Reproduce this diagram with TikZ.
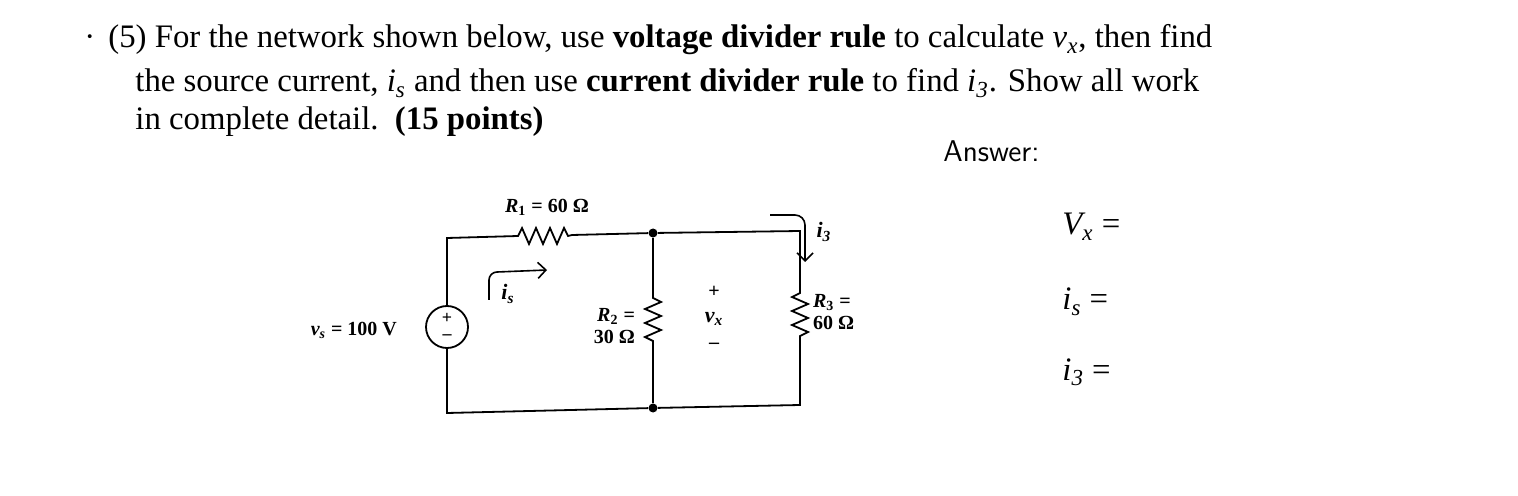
\documentclass[tikz,border=0pt]{standalone}
\usepackage{fontspec}
\setmainfont{Liberation Serif}
\usetikzlibrary{arrows.meta}
\begin{document}
\begin{tikzpicture}[x=0.5pt,y=-0.5pt,
  wire/.style={line width=0.9pt},
  lbl/.style={font=\fontsize{10}{11}\selectfont\bfseries},
  txt/.style={font=\fontsize{16.4}{18}\selectfont,anchor=base west,inner sep=0},
  dotn/.style={circle,fill,inner sep=0,minimum size=4.5pt}]
\useasboundingbox (0,0) rectangle (1518,496);
% text
\node[txt] (t0) at (84,48) {·};
\node[txt] (t1) at (108,48) {(5) For the network shown below, use \textbf{voltage divider rule} to calculate \textit{v\textsubscript{x}}, then find};
\node[txt] (t2) at (135,92) {the source current, \textit{i\textsubscript{s}} and then use \textbf{current divider rule} to find \textit{i\textsubscript{3}}. Show all work};
\node[txt] (t3) at (135,130) {in complete detail.\ \ \textbf{(15 points)}};
\node[txt,font=\fontsize{15}{17}\selectfont\sffamily] (ans) at (943,162) {Answer:};
\node[txt] (a1) at (1062,235) {\textit{V\textsubscript{x}} =};
\node[txt] (a2) at (1062,310) {\textit{i\textsubscript{s}} =};
\node[txt] (a3) at (1062,380) {\textit{i\textsubscript{3}} =};
% circuit
\coordinate (tl) at (447,238);
\coordinate (bl) at (447,413);
\coordinate (r1a) at (518,236);
\coordinate (r1b) at (572,235);
\node[dotn] (nt) at (653,233) {};
\node[dotn] (nb) at (653,408) {};
\coordinate (tr) at (800,231);
\coordinate (br) at (800,405);
\node[circle,draw,line width=0.9pt,minimum size=21pt,inner sep=0] (src) at (447,327) {};
\node[font=\fontsize{9}{10}\selectfont\bfseries] at (447,318) {+};
\node[font=\fontsize{9}{10}\selectfont\bfseries] at (447,337) {--};
\draw[wire] (src.north) -- (tl) -- (r1a)
  -- ++(4,-8) -- ++(7,16) -- ++(7,-16) -- ++(7,16) -- ++(7,-16) -- ++(7,16) -- ++(7,-16) -- ++(4,8)
  -- (r1b) -- (nt) -- (tr) -- (800,293)
  -- ++(-8,4) -- ++(16,7) -- ++(-16,7) -- ++(16,7) -- ++(-16,7) -- ++(16,7) -- ++(-8,4) -- (br) -- (nb) -- (bl) -- (src.south);
\draw[wire] (nt) -- (653,298)
  -- ++(8,4) -- ++(-16,7) -- ++(16,7) -- ++(-16,7) -- ++(16,7) -- ++(-16,7) -- ++(8,4) -- (nb);
% labels
\node[lbl] (lr1) at (547,207) {\textit{R}\textsubscript{1} = 60 Ω};
\node[lbl,align=right,anchor=east] (lr2) at (642,326) {\textit{R}\textsubscript{2} =\\30 Ω};
\node[lbl,align=left,anchor=west] (lr3) at (806,312) {\textit{R}\textsubscript{3} =\\60 Ω};
\node[lbl,anchor=east] (lvs) at (404,330) {\textit{v\textsubscript{s}} = 100 V};
\node[lbl] (p) at (714,292) {+};
\node[lbl,font=\fontsize{11}{12}\selectfont\bfseries\itshape] (vx) at (714,319) {v\textsubscript{x}};
\node[lbl] (m) at (714,346) {--};
% current arrows
\coordinate (is0) at (489,300);
\coordinate (is1) at (547,270);
\draw[line width=0.8pt,-{Straight Barb[length=4pt]}] (is0) -- (489,280) to[out=90,in=180] (497,272) -- (is1);
\node[lbl,font=\fontsize{11}{12}\selectfont\bfseries\itshape] (lis) at (508,294) {i\textsubscript{s}};
\coordinate (i30) at (770,215);
\coordinate (i31) at (805,262);
\draw[line width=0.8pt,-{Straight Barb[length=4pt]}] (i30) -- (795,215) to[out=0,in=90] (805,225) -- (i31);
\node[lbl,font=\fontsize{11}{12}\selectfont\bfseries\itshape] (li3) at (824,232) {i\textsubscript{3}};
\end{tikzpicture}
\end{document}
